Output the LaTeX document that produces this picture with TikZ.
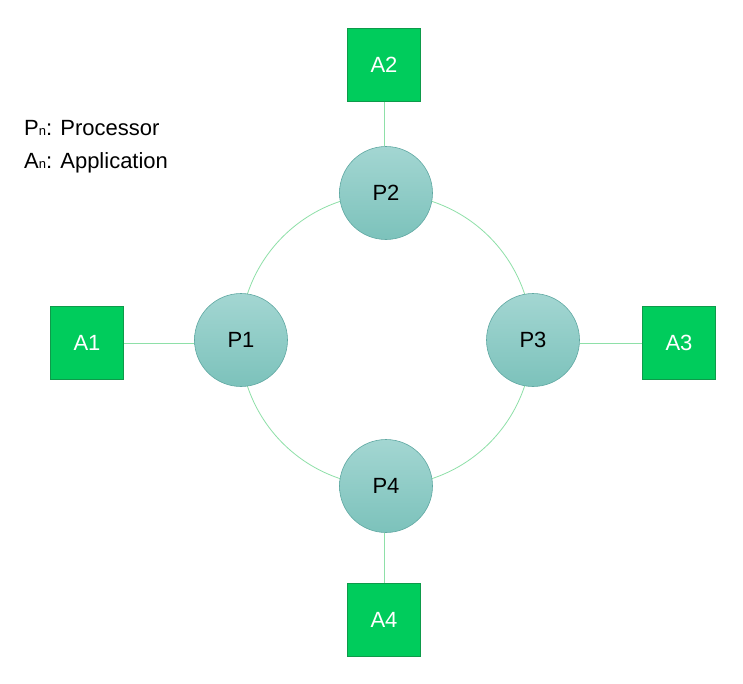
\documentclass[tikz,border=0pt]{standalone}
\usepackage{fontspec}
\setmainfont{Liberation Sans}
\definecolor{app}{HTML}{00CC5C}
\definecolor{appb}{HTML}{0E9A4A}
\definecolor{lnk}{HTML}{8EE0A8}
\definecolor{ptop}{HTML}{A3D6D2}
\definecolor{pbot}{HTML}{7CC2BB}
\definecolor{pbrd}{HTML}{5FA8A2}
\begin{document}
\begin{tikzpicture}[x=1pt,y=-1pt,
  proc/.style={circle,minimum size=93pt,inner sep=0pt,top color=ptop,bottom color=pbot,draw=pbrd,line width=0.6pt,font=\fontsize{22}{24}\selectfont},
  appn/.style={rectangle,minimum size=73pt,inner sep=0pt,fill=app,draw=appb,line width=0.6pt,text=white,font=\fontsize{22}{24}\selectfont},
  link/.style={draw=lnk,line width=0.8pt}]
\useasboundingbox (0,0) rectangle (743,683);
\fill[white] (0,0) rectangle (743,683);
\coordinate (c) at (386,340);
\draw[link] (c) circle[radius=146];
\node[proc] (P1) at (241,340) {P1};
\node[proc] (P2) at (386,193) {P2};
\node[proc] (P3) at (533,340) {P3};
\node[proc] (P4) at (386,486) {P4};
\node[appn] (A1) at (87,343) {A1};
\node[appn] (A2) at (384,65) {A2};
\node[appn] (A3) at (679,343) {A3};
\node[appn] (A4) at (384,620) {A4};
\draw[link] (A1.east) -- (A1.east -| P1.west);
\draw[link] (A2.south) -- (A2.south |- P2.north);
\draw[link] (A3.west) -- (A3.west -| P3.east);
\draw[link] (A4.north) -- (A4.north |- P4.south);
\node[anchor=west,font=\fontsize{22}{24}\selectfont,inner sep=0pt] (l1) at (24,128) {P{\fontsize{13}{14}\selectfont n}: Processor};
\node[anchor=west,font=\fontsize{22}{24}\selectfont,inner sep=0pt] (l2) at (24,163) {A{\fontsize{13}{14}\selectfont n}: Application};
\end{tikzpicture}
\end{document}
